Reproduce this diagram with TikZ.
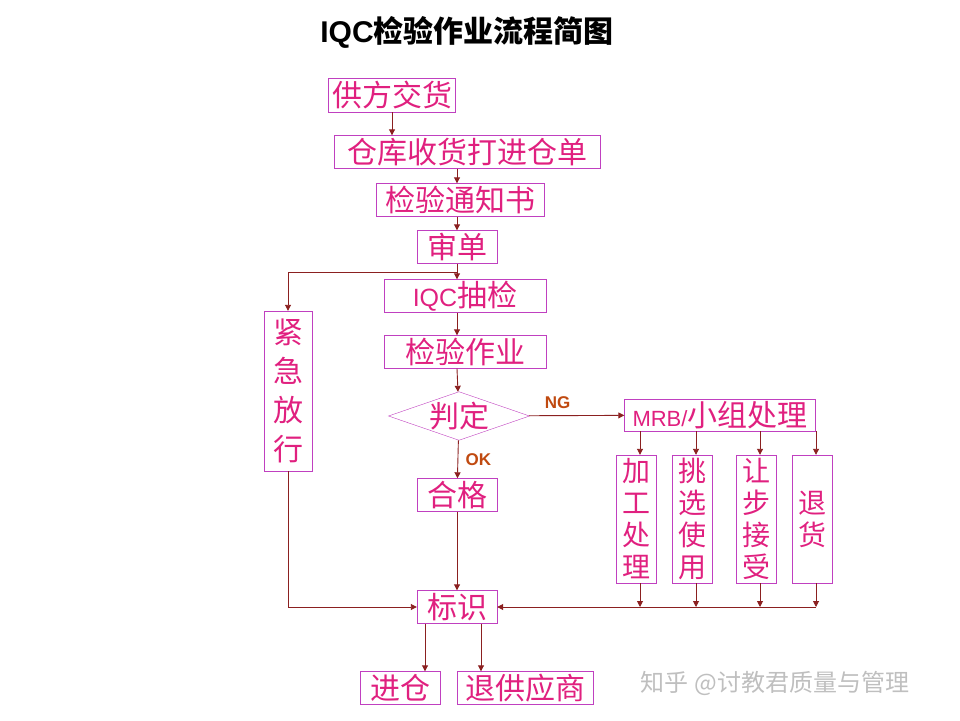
\documentclass[tikz,border=0pt]{standalone}
\usepackage{fontspec}
\setmainfont{Liberation Sans}
\newfontfamily\cjk{Noto Sans CJK SC}
\usetikzlibrary{shapes.geometric,arrows.meta}
\definecolor{boxline}{HTML}{C040C0}
\definecolor{boxtext}{HTML}{E0207F}
\definecolor{flowline}{HTML}{8B2020}
\definecolor{labeltext}{HTML}{C04A10}
\tikzset{
	box/.style={shape=rectangle, draw=boxline, text=boxtext, inner sep=0pt, font=\cjk\fontsize{30}{30}\selectfont},
	vbox/.style={box, align=center, minimum width=40pt, font=\cjk\fontsize{28}{32}\selectfont},
	flow/.style={draw=flowline, line width=0.9pt, -{Triangle[length=6pt,width=6pt]}},
	tag/.style={text=labeltext, font=\bfseries\fontsize{17}{17}\selectfont}
}
\begin{document}
\begin{tikzpicture}[x=1pt, y=-1pt]
	\useasboundingbox (0,0) rectangle (960,720);
	\node (title)[font=\bfseries\fontsize{30}{30}\selectfont] at (467,32) {IQC{\cjk 检验作业流程简图}};
	
	\node (s1)[box, minimum width=127pt, minimum height=34pt] at (392,95) {供方交货};
	\node (s2)[box, minimum width=266pt, minimum height=33pt] at (467,152) {仓库收货打进仓单};
	\node (s3)[box, minimum width=168pt, minimum height=33pt] at (460,200) {检验通知书};
	\node (s4)[box, minimum width=80pt, minimum height=33pt] at (457,247) {审单};
	\node (s5)[box, minimum width=162pt, minimum height=33pt] at (465,296) {\fontsize{25}{25}\selectfont\rmfamily IQC\cjk\fontsize{30}{30}\selectfont 抽检};
	\node (s6)[box, minimum width=162pt, minimum height=33pt] at (465,352) {检验作业};
	\node (judge)[shape=diamond, draw=boxline, text=boxtext, aspect=2.9, inner sep=0pt, minimum width=135pt, minimum height=47pt, font=\cjk\fontsize{30}{30}\selectfont] at (459,416) {判定};
	\node (pass)[box, minimum width=80pt, minimum height=33pt] at (457,495) {合格};
	\node (mark)[box, minimum width=80pt, minimum height=33pt] at (457,607) {标识};
	\node (store)[box, minimum width=80pt, minimum height=33pt] at (400,688) {进仓};
	\node (back)[box, minimum width=136pt, minimum height=33pt] at (525,688) {退供应商};
	
	\node (urgent)[vbox, minimum width=48pt, minimum height=160pt, font=\cjk\fontsize{30}{39}\selectfont] at (288,391) {紧\\急\\放\\行};
	\node (mrb)[box, minimum width=191pt, minimum height=32pt] at (720,415) {\rmfamily\fontsize{22}{22}\selectfont MRB/\cjk\fontsize{30}{30}\selectfont 小组处理};
	\node (r1)[vbox, minimum height=128pt] at (636,519) {加\\工\\处\\理};
	\node (r2)[vbox, minimum height=128pt] at (692,519) {挑\\选\\使\\用};
	\node (r3)[vbox, minimum height=128pt] at (756,519) {让\\步\\接\\受};
	\node (r4)[vbox, minimum height=128pt] at (812,519) {退\\货};
	
	\coordinate (fork) at (457,272);
	\coordinate (join) at (816,607);
	
	\path[flow] (s1) -- (s1 |- s2.north);
	\path[flow] (s2.south -| s4) -- (s3.north -| s4);
	\path[flow] (s3.south -| s4) -- (s4);
	\draw[flowline, line width=0.9pt] (s4) -- (fork);
	\path[flow] (fork) -- (s5.north -| fork);
	\path[flow] (fork) -| (urgent);
	\path[flow] (s5.south -| fork) -- (s6.north -| fork);
	\path[flow] (s6.south -| fork) -- (judge);
	\path[flow] (judge) -- node[tag, right=4pt]{OK} (pass);
	\path[flow] (judge) -- node[tag, above=3pt, pos=0.3]{NG} (mrb);
	\path[flow] (pass) -- (mark);
	\path[flow] (urgent) |- (mark);
	\foreach \r/\x in {r1/640, r2/696, r3/760, r4/816} {
		\path[flow] (mrb.south -| \x,0) -- (\r.north -| \x,0);
		\path[flow] (\r.south -| \x,0) -- (\x,607);
	}
	\path[flow] (join) -- (mark);
	\path[flow] (mark.south -| 425,0) -- (store.north -| 425,0);
	\path[flow] (mark.south -| 481,0) -- (back.north -| 481,0);
	
	\node (mark2)[text=black!25, font=\cjk\fontsize{24}{24}\selectfont] at (775,683) {知乎 @讨教君质量与管理};
\end{tikzpicture}
\end{document}
